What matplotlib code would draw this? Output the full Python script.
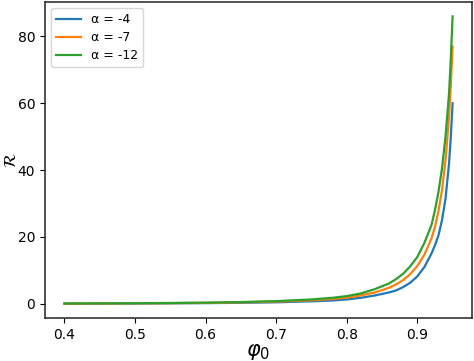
import numpy as np
import matplotlib
matplotlib.use('Agg')
import matplotlib.pyplot as plt

phi = [0.40, 0.45, 0.50, 0.55, 0.60, 0.65, 0.70, 0.75, 0.78, 0.80, 0.82, 0.84, 0.86,
       0.87, 0.88, 0.89, 0.90, 0.91, 0.92, 0.925, 0.93, 0.935, 0.94, 0.945, 0.9475, 0.95]

r_a4 = [0.05, 0.07, 0.10, 0.14, 0.20, 0.30, 0.45, 0.75, 1.0, 1.3, 1.8, 2.5, 3.4,
        4.0, 5.0, 6.3, 8.2, 11.0, 15.0, 17.5, 20.5, 25.0, 31.5, 42.0, 50.0, 60.0]
r_a7 = [0.07, 0.10, 0.14, 0.20, 0.28, 0.42, 0.65, 1.05, 1.45, 1.8, 2.5, 3.4, 4.8,
        5.8, 7.1, 8.9, 11.3, 14.7, 19.5, 23.0, 27.8, 34.0, 43.0, 56.0, 65.5, 77.0]
r_a12 = [0.09, 0.12, 0.17, 0.25, 0.35, 0.52, 0.80, 1.3, 1.8, 2.3, 3.1, 4.4, 6.1,
         7.4, 9.0, 11.2, 14.0, 18.2, 23.5, 28.0, 33.5, 40.5, 50.0, 63.0, 73.5, 86.0]

labels = ['α = -4', 'α = -7', 'α = -12']

fig = plt.figure(figsize=(4.74, 3.61), dpi=100)
ax = fig.add_axes([45/474, 43/361, 427/474, 316/361])

for r, lab in zip([r_a4, r_a7, r_a12], labels):
    ax.plot(phi, r, lw=1.6, label=lab)

ax.set_xticks([0.4, 0.5, 0.6, 0.7, 0.8, 0.9])
ax.set_yticks([0, 20, 40, 60, 80])
ax.tick_params(labelsize=10)
ax.set_xlabel(r'$\varphi_0$', fontsize=15, labelpad=0)
ax.set_ylabel(r'$\mathcal{R}$', fontsize=12)
ax.yaxis.set_label_coords(-0.058, 0.5)
for s in ax.spines.values():
    s.set_linewidth(1.2)
    s.set_color('#333333')
ax.legend(loc='upper left', fontsize=9, labelspacing=0.4)

fig.savefig('out.png', dpi=100)
